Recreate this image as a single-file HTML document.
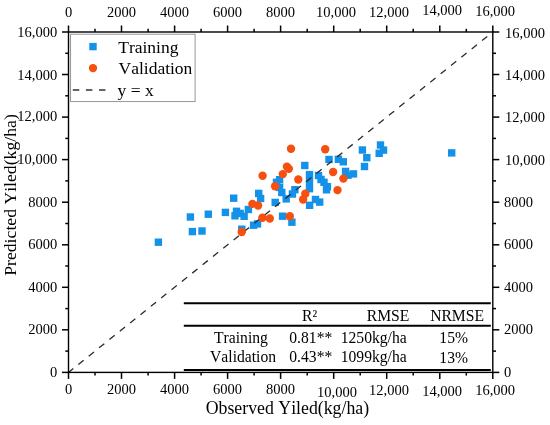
<!DOCTYPE html>
<html lang="en"><head><meta charset="utf-8"><title>Observed vs Predicted Yield</title>
<style>html,body{margin:0;padding:0;background:#fff}body{width:550px;height:425px;overflow:hidden}svg{display:block}text{font-family:"Liberation Serif","Times New Roman",serif;fill:#000;font-kerning:none}</style>
</head><body>
<svg width="550" height="425" viewBox="0 0 550 425">
<rect width="550" height="425" fill="#fff"/>
<g fill="#1491E8">
<rect x="154.7" y="238.5" width="7.4" height="7.4"/>
<rect x="186.7" y="213.3" width="7.4" height="7.4"/>
<rect x="188.7" y="227.9" width="7.4" height="7.4"/>
<rect x="198.3" y="227.3" width="7.4" height="7.4"/>
<rect x="204.6" y="210.5" width="7.4" height="7.4"/>
<rect x="221.7" y="208.7" width="7.4" height="7.4"/>
<rect x="230.0" y="194.5" width="7.4" height="7.4"/>
<rect x="232.8" y="207.6" width="7.4" height="7.4"/>
<rect x="231.3" y="212.1" width="7.4" height="7.4"/>
<rect x="236.5" y="209.7" width="7.4" height="7.4"/>
<rect x="240.4" y="212.6" width="7.4" height="7.4"/>
<rect x="244.7" y="205.8" width="7.4" height="7.4"/>
<rect x="238.1" y="225.5" width="7.4" height="7.4"/>
<rect x="249.9" y="221.5" width="7.4" height="7.4"/>
<rect x="253.8" y="220.2" width="7.4" height="7.4"/>
<rect x="255.0" y="189.7" width="7.4" height="7.4"/>
<rect x="256.9" y="194.8" width="7.4" height="7.4"/>
<rect x="271.5" y="198.7" width="7.4" height="7.4"/>
<rect x="275.9" y="176.0" width="7.4" height="7.4"/>
<rect x="272.8" y="178.6" width="7.4" height="7.4"/>
<rect x="275.9" y="183.7" width="7.4" height="7.4"/>
<rect x="278.1" y="188.8" width="7.4" height="7.4"/>
<rect x="282.5" y="195.2" width="7.4" height="7.4"/>
<rect x="288.7" y="190.3" width="7.4" height="7.4"/>
<rect x="291.2" y="186.0" width="7.4" height="7.4"/>
<rect x="278.9" y="212.5" width="7.4" height="7.4"/>
<rect x="288.2" y="218.5" width="7.4" height="7.4"/>
<rect x="301.1" y="161.8" width="7.4" height="7.4"/>
<rect x="305.8" y="170.9" width="7.4" height="7.4"/>
<rect x="305.8" y="177.9" width="7.4" height="7.4"/>
<rect x="305.8" y="185.0" width="7.4" height="7.4"/>
<rect x="314.8" y="171.8" width="7.4" height="7.4"/>
<rect x="317.3" y="175.8" width="7.4" height="7.4"/>
<rect x="320.3" y="178.6" width="7.4" height="7.4"/>
<rect x="323.7" y="183.0" width="7.4" height="7.4"/>
<rect x="322.8" y="186.1" width="7.4" height="7.4"/>
<rect x="311.8" y="195.8" width="7.4" height="7.4"/>
<rect x="316.0" y="198.4" width="7.4" height="7.4"/>
<rect x="305.9" y="201.6" width="7.4" height="7.4"/>
<rect x="325.3" y="155.8" width="7.4" height="7.4"/>
<rect x="334.7" y="155.6" width="7.4" height="7.4"/>
<rect x="339.6" y="158.1" width="7.4" height="7.4"/>
<rect x="341.9" y="167.7" width="7.4" height="7.4"/>
<rect x="349.8" y="170.2" width="7.4" height="7.4"/>
<rect x="344.3" y="171.5" width="7.4" height="7.4"/>
<rect x="358.7" y="146.3" width="7.4" height="7.4"/>
<rect x="363.1" y="154.0" width="7.4" height="7.4"/>
<rect x="360.8" y="162.8" width="7.4" height="7.4"/>
<rect x="376.8" y="141.3" width="7.4" height="7.4"/>
<rect x="379.8" y="146.4" width="7.4" height="7.4"/>
<rect x="375.5" y="149.6" width="7.4" height="7.4"/>
<rect x="448.0" y="149.2" width="7.4" height="7.4"/>
</g>
<line x1="68.5" y1="372.4" x2="492.8" y2="32.0" stroke="#2a2a2a" stroke-width="1.3" stroke-dasharray="6.7 6.57" stroke-dashoffset="0.6"/>
<g fill="#F5500F">
<circle cx="241.7" cy="232.0" r="4.2"/>
<circle cx="252.4" cy="203.9" r="4.2"/>
<circle cx="258.1" cy="205.5" r="4.2"/>
<circle cx="262.4" cy="217.8" r="4.2"/>
<circle cx="269.8" cy="218.5" r="4.2"/>
<circle cx="289.8" cy="216.3" r="4.2"/>
<circle cx="275.1" cy="186.2" r="4.2"/>
<circle cx="262.6" cy="175.7" r="4.2"/>
<circle cx="282.8" cy="174.1" r="4.2"/>
<circle cx="286.9" cy="166.6" r="4.2"/>
<circle cx="288.8" cy="168.8" r="4.2"/>
<circle cx="291.0" cy="148.7" r="4.2"/>
<circle cx="325.2" cy="149.3" r="4.2"/>
<circle cx="298.3" cy="179.5" r="4.2"/>
<circle cx="305.3" cy="193.8" r="4.2"/>
<circle cx="303.1" cy="199.5" r="4.2"/>
<circle cx="333.1" cy="172.0" r="4.2"/>
<circle cx="337.5" cy="190.1" r="4.2"/>
<circle cx="343.4" cy="178.6" r="4.2"/>
</g>
<g stroke="#000" stroke-width="2">
<line x1="183.8" y1="303.2" x2="490.8" y2="303.2"/>
<line x1="183.8" y1="325.7" x2="490.8" y2="325.7"/>
<line x1="183.8" y1="369.9" x2="490.8" y2="369.9"/>
</g>
<g font-size="15.65px">
<text x="309.6" y="321" text-anchor="middle">R²</text>
<text x="388" y="321" text-anchor="middle">RMSE</text>
<text x="457.1" y="321" text-anchor="middle">NRMSE</text>
<text x="241" y="342.6" text-anchor="middle">Training</text>
<text x="243.1" y="362.3" text-anchor="middle">Validation</text>
<text x="310.8" y="342.7" text-anchor="middle">0.81**</text>
<text x="310.8" y="362.2" text-anchor="middle">0.43**</text>
<text x="373.7" y="342.7" text-anchor="middle">1250kg/ha</text>
<text x="373.7" y="362.2" text-anchor="middle">1099kg/ha</text>
<text x="453.7" y="343" text-anchor="middle">15%</text>
<text x="453.7" y="363.3" text-anchor="middle">13%</text>
</g>
<g stroke="#000" fill="none">
<rect x="68.5" y="32.0" width="424.3" height="340.4" stroke-width="1.4"/>
<g stroke-width="1.5">
<line x1="68.5" y1="372.4" x2="68.5" y2="378.9"/>
<line x1="68.5" y1="32.0" x2="68.5" y2="25.5"/>
<line x1="68.5" y1="372.4" x2="62.0" y2="372.4"/>
<line x1="492.8" y1="372.4" x2="499.3" y2="372.4"/>
<line x1="95.0" y1="372.4" x2="95.0" y2="375.6"/>
<line x1="95.0" y1="32.0" x2="95.0" y2="28.8"/>
<line x1="68.5" y1="351.1" x2="65.3" y2="351.1"/>
<line x1="492.8" y1="351.1" x2="496.0" y2="351.1"/>
<line x1="121.5" y1="372.4" x2="121.5" y2="378.9"/>
<line x1="121.5" y1="32.0" x2="121.5" y2="25.5"/>
<line x1="68.5" y1="329.8" x2="62.0" y2="329.8"/>
<line x1="492.8" y1="329.8" x2="499.3" y2="329.8"/>
<line x1="148.1" y1="372.4" x2="148.1" y2="375.6"/>
<line x1="148.1" y1="32.0" x2="148.1" y2="28.8"/>
<line x1="68.5" y1="308.6" x2="65.3" y2="308.6"/>
<line x1="492.8" y1="308.6" x2="496.0" y2="308.6"/>
<line x1="174.6" y1="372.4" x2="174.6" y2="378.9"/>
<line x1="174.6" y1="32.0" x2="174.6" y2="25.5"/>
<line x1="68.5" y1="287.3" x2="62.0" y2="287.3"/>
<line x1="492.8" y1="287.3" x2="499.3" y2="287.3"/>
<line x1="201.1" y1="372.4" x2="201.1" y2="375.6"/>
<line x1="201.1" y1="32.0" x2="201.1" y2="28.8"/>
<line x1="68.5" y1="266.0" x2="65.3" y2="266.0"/>
<line x1="492.8" y1="266.0" x2="496.0" y2="266.0"/>
<line x1="227.6" y1="372.4" x2="227.6" y2="378.9"/>
<line x1="227.6" y1="32.0" x2="227.6" y2="25.5"/>
<line x1="68.5" y1="244.8" x2="62.0" y2="244.8"/>
<line x1="492.8" y1="244.8" x2="499.3" y2="244.8"/>
<line x1="254.1" y1="372.4" x2="254.1" y2="375.6"/>
<line x1="254.1" y1="32.0" x2="254.1" y2="28.8"/>
<line x1="68.5" y1="223.5" x2="65.3" y2="223.5"/>
<line x1="492.8" y1="223.5" x2="496.0" y2="223.5"/>
<line x1="280.6" y1="372.4" x2="280.6" y2="378.9"/>
<line x1="280.6" y1="32.0" x2="280.6" y2="25.5"/>
<line x1="68.5" y1="202.2" x2="62.0" y2="202.2"/>
<line x1="492.8" y1="202.2" x2="499.3" y2="202.2"/>
<line x1="307.2" y1="372.4" x2="307.2" y2="375.6"/>
<line x1="307.2" y1="32.0" x2="307.2" y2="28.8"/>
<line x1="68.5" y1="180.9" x2="65.3" y2="180.9"/>
<line x1="492.8" y1="180.9" x2="496.0" y2="180.9"/>
<line x1="333.7" y1="372.4" x2="333.7" y2="378.9"/>
<line x1="333.7" y1="32.0" x2="333.7" y2="25.5"/>
<line x1="68.5" y1="159.6" x2="62.0" y2="159.6"/>
<line x1="492.8" y1="159.6" x2="499.3" y2="159.6"/>
<line x1="360.2" y1="372.4" x2="360.2" y2="375.6"/>
<line x1="360.2" y1="32.0" x2="360.2" y2="28.8"/>
<line x1="68.5" y1="138.4" x2="65.3" y2="138.4"/>
<line x1="492.8" y1="138.4" x2="496.0" y2="138.4"/>
<line x1="386.7" y1="372.4" x2="386.7" y2="378.9"/>
<line x1="386.7" y1="32.0" x2="386.7" y2="25.5"/>
<line x1="68.5" y1="117.1" x2="62.0" y2="117.1"/>
<line x1="492.8" y1="117.1" x2="499.3" y2="117.1"/>
<line x1="413.2" y1="372.4" x2="413.2" y2="375.6"/>
<line x1="413.2" y1="32.0" x2="413.2" y2="28.8"/>
<line x1="68.5" y1="95.8" x2="65.3" y2="95.8"/>
<line x1="492.8" y1="95.8" x2="496.0" y2="95.8"/>
<line x1="439.8" y1="372.4" x2="439.8" y2="378.9"/>
<line x1="439.8" y1="32.0" x2="439.8" y2="25.5"/>
<line x1="68.5" y1="74.5" x2="62.0" y2="74.5"/>
<line x1="492.8" y1="74.5" x2="499.3" y2="74.5"/>
<line x1="466.3" y1="372.4" x2="466.3" y2="375.6"/>
<line x1="466.3" y1="32.0" x2="466.3" y2="28.8"/>
<line x1="68.5" y1="53.3" x2="65.3" y2="53.3"/>
<line x1="492.8" y1="53.3" x2="496.0" y2="53.3"/>
<line x1="492.8" y1="372.4" x2="492.8" y2="378.9"/>
<line x1="492.8" y1="32.0" x2="492.8" y2="25.5"/>
<line x1="68.5" y1="32.0" x2="62.0" y2="32.0"/>
<line x1="492.8" y1="32.0" x2="499.3" y2="32.0"/>
</g></g>
<g font-size="14.5px">
<text x="68.5" y="17.0" text-anchor="middle">0</text>
<text x="68.5" y="394.4" text-anchor="middle">0</text>
<text x="57.2" y="377.0" text-anchor="end">0</text>
<text x="503.9" y="377.0">0</text>
<text x="121.5" y="17.0" text-anchor="middle">2000</text>
<text x="121.5" y="394.4" text-anchor="middle">2000</text>
<text x="57.2" y="334.4" text-anchor="end">2000</text>
<text x="503.9" y="334.4">2000</text>
<text x="174.6" y="17.0" text-anchor="middle">4000</text>
<text x="174.6" y="394.4" text-anchor="middle">4000</text>
<text x="57.2" y="291.9" text-anchor="end">4000</text>
<text x="503.9" y="291.9">4000</text>
<text x="227.6" y="17.0" text-anchor="middle">6000</text>
<text x="227.6" y="394.4" text-anchor="middle">6000</text>
<text x="57.2" y="249.3" text-anchor="end">6000</text>
<text x="503.9" y="249.3">6000</text>
<text x="280.6" y="17.0" text-anchor="middle">8000</text>
<text x="280.6" y="394.4" text-anchor="middle">8000</text>
<text x="57.2" y="206.8" text-anchor="end">8000</text>
<text x="503.9" y="206.8">8000</text>
<text x="336.0" y="16.8" text-anchor="middle">10,000</text>
<text x="337.0" y="397.0" text-anchor="middle">10,000</text>
<text x="57.2" y="164.2" text-anchor="end">10,000</text>
<text x="505.1" y="164.9">10,000</text>
<text x="389.0" y="16.8" text-anchor="middle">12,000</text>
<text x="389.0" y="394.6" text-anchor="middle">12,000</text>
<text x="57.2" y="121.2" text-anchor="end">12,000</text>
<text x="505.1" y="121.9">12,000</text>
<text x="442.1" y="15.3" text-anchor="middle">14,000</text>
<text x="442.1" y="396.2" text-anchor="middle">14,000</text>
<text x="57.2" y="79.9" text-anchor="end">14,000</text>
<text x="505.1" y="79.9">14,000</text>
<text x="495.1" y="16.3" text-anchor="middle">16,000</text>
<text x="495.1" y="394.6" text-anchor="middle">16,000</text>
<text x="57.2" y="36.6" text-anchor="end">16,000</text>
<text x="505.1" y="37.5">16,000</text>
</g>
<text x="287.45" y="413.6" font-size="17.8px" text-anchor="middle">Observed Yiled(kg/ha)</text>
<text transform="translate(16.2,195) rotate(-90)" font-size="17.7px" text-anchor="middle">Predicted Yiled(kg/ha)</text>
<rect x="70.6" y="34.2" width="124.5" height="67.4" fill="#fff" stroke="#8a8a8a" stroke-width="0.9"/>
<rect x="89.3" y="42.9" width="7.4" height="7.4" fill="#1491E8"/>
<circle cx="93" cy="68.1" r="4.2" fill="#F5500F"/>
<line x1="72.8" y1="90" x2="105.6" y2="90" stroke="#333" stroke-width="1.3" stroke-dasharray="6.5 6.6"/>
<g font-size="17.5px">
<text x="118.2" y="52.5">Training</text>
<text x="118.5" y="74.1">Validation</text>
<text x="117.6" y="95.5">y = x</text>
</g>
</svg>
</body></html>
